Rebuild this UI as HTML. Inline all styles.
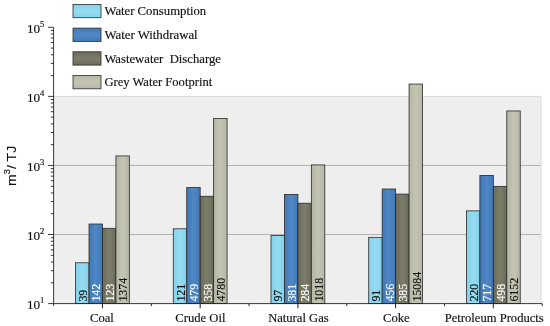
<!DOCTYPE html><html><head><meta charset="utf-8"><style>html,body{margin:0;padding:0;background:#fff}svg{display:block;font-family:"Liberation Serif",serif}text{stroke-width:.15px}</style></head><body><svg width="550" height="326" viewBox="0 0 550 326">
<defs>
<linearGradient id="c1" x1="0" x2="1" y1="0" y2="0"><stop offset="0" stop-color="#84d2eb"/><stop offset="0.5" stop-color="#95dbf0"/><stop offset="1" stop-color="#84d2eb"/></linearGradient>
<linearGradient id="c2" x1="0" x2="1" y1="0" y2="0"><stop offset="0" stop-color="#4179b6"/><stop offset="0.5" stop-color="#4f88c5"/><stop offset="1" stop-color="#4179b6"/></linearGradient>
<linearGradient id="c3" x1="0" x2="1" y1="0" y2="0"><stop offset="0" stop-color="#6b6b5b"/><stop offset="0.5" stop-color="#7d7d69"/><stop offset="1" stop-color="#6b6b5b"/></linearGradient>
<linearGradient id="c4" x1="0" x2="1" y1="0" y2="0"><stop offset="0" stop-color="#b5b6a4"/><stop offset="0.5" stop-color="#c3c4b2"/><stop offset="1" stop-color="#b5b6a4"/></linearGradient>
<linearGradient id="l1" x1="0" x2="0" y1="0" y2="1"><stop offset="0" stop-color="#86d3ec"/><stop offset="0.5" stop-color="#97dcf1"/><stop offset="1" stop-color="#86d3ec"/></linearGradient>
<linearGradient id="l2" x1="0" x2="0" y1="0" y2="1"><stop offset="0" stop-color="#4179b6"/><stop offset="0.5" stop-color="#4f88c5"/><stop offset="1" stop-color="#4179b6"/></linearGradient>
<linearGradient id="l3" x1="0" x2="0" y1="0" y2="1"><stop offset="0" stop-color="#6b6b5b"/><stop offset="0.5" stop-color="#7d7d69"/><stop offset="1" stop-color="#6b6b5b"/></linearGradient>
<linearGradient id="l4" x1="0" x2="0" y1="0" y2="1"><stop offset="0" stop-color="#b5b6a4"/><stop offset="0.5" stop-color="#c3c4b2"/><stop offset="1" stop-color="#b5b6a4"/></linearGradient>
</defs>
<rect width="550" height="326" fill="#fff"/>
<rect x="53.6" y="96.38" width="487.4" height="207.23" fill="#eeeeee"/>
<line x1="53.6" x2="541.0" y1="234.53" y2="234.53" stroke="#b2b2b2" stroke-width="1"/>
<line x1="53.6" x2="541.0" y1="165.45" y2="165.45" stroke="#b2b2b2" stroke-width="1"/>
<line x1="53.6" x2="541.0" y1="96.38" y2="96.38" stroke="#dadada" stroke-width="1"/>
<line x1="541.0" x2="541.0" y1="96.38" y2="303.6" stroke="#dcdcdc" stroke-width="1"/>
<rect x="75.56" y="262.77" width="13.45" height="40.83" fill="url(#c1)" stroke="#2a2a2a" stroke-width="0.8"/>
<text transform="translate(86.98,301.60) rotate(-90) scale(0.95,1)" font-size="12.6" fill="#111" stroke="#111">39</text>
<rect x="89.01" y="224.01" width="13.45" height="79.59" fill="url(#c2)" stroke="#2a2a2a" stroke-width="0.8"/>
<text transform="translate(100.44,301.60) rotate(-90) scale(0.95,1)" font-size="12.6" fill="#fff" stroke="#fff">142</text>
<rect x="102.46" y="228.31" width="13.45" height="75.29" fill="url(#c3)" stroke="#2a2a2a" stroke-width="0.8"/>
<text transform="translate(113.89,301.60) rotate(-90) scale(0.95,1)" font-size="12.6" fill="#fff" stroke="#fff">123</text>
<rect x="115.91" y="155.92" width="13.45" height="147.68" fill="url(#c4)" stroke="#2a2a2a" stroke-width="0.8"/>
<text transform="translate(127.34,301.60) rotate(-90) scale(0.95,1)" font-size="12.6" fill="#111" stroke="#111">1374</text>
<text x="101.96" y="322" text-anchor="middle" font-size="12.6" fill="#111" stroke="#111">Coal</text>
<line x1="102.46" x2="102.46" y1="303.6" y2="308.3" stroke="#222" stroke-width="1"/>
<line x1="151.32" x2="151.32" y1="303.6" y2="306.1" stroke="#222" stroke-width="1"/>
<rect x="173.28" y="228.81" width="13.45" height="74.79" fill="url(#c1)" stroke="#2a2a2a" stroke-width="0.8"/>
<text transform="translate(184.70,301.60) rotate(-90) scale(0.95,1)" font-size="12.6" fill="#111" stroke="#111">121</text>
<rect x="186.73" y="187.53" width="13.45" height="116.07" fill="url(#c2)" stroke="#2a2a2a" stroke-width="0.8"/>
<text transform="translate(198.15,301.60) rotate(-90) scale(0.95,1)" font-size="12.6" fill="#fff" stroke="#fff">479</text>
<rect x="200.18" y="196.27" width="13.45" height="107.33" fill="url(#c3)" stroke="#2a2a2a" stroke-width="0.8"/>
<text transform="translate(211.60,301.60) rotate(-90) scale(0.95,1)" font-size="12.6" fill="#fff" stroke="#fff">358</text>
<rect x="213.63" y="118.52" width="13.45" height="185.08" fill="url(#c4)" stroke="#2a2a2a" stroke-width="0.8"/>
<text transform="translate(225.05,301.60) rotate(-90) scale(0.95,1)" font-size="12.6" fill="#111" stroke="#111">4780</text>
<text x="200.38" y="322" text-anchor="middle" font-size="12.6" fill="#111" stroke="#111">Crude Oil</text>
<line x1="200.18" x2="200.18" y1="303.6" y2="308.3" stroke="#222" stroke-width="1"/>
<line x1="249.04" x2="249.04" y1="303.6" y2="306.1" stroke="#222" stroke-width="1"/>
<rect x="271.00" y="235.44" width="13.45" height="68.16" fill="url(#c1)" stroke="#2a2a2a" stroke-width="0.8"/>
<text transform="translate(282.43,301.60) rotate(-90) scale(0.95,1)" font-size="12.6" fill="#111" stroke="#111">97</text>
<rect x="284.45" y="194.40" width="13.45" height="109.20" fill="url(#c2)" stroke="#2a2a2a" stroke-width="0.8"/>
<text transform="translate(295.88,301.60) rotate(-90) scale(0.95,1)" font-size="12.6" fill="#fff" stroke="#fff">381</text>
<rect x="297.90" y="203.21" width="13.45" height="100.39" fill="url(#c3)" stroke="#2a2a2a" stroke-width="0.8"/>
<text transform="translate(309.33,301.60) rotate(-90) scale(0.95,1)" font-size="12.6" fill="#fff" stroke="#fff">284</text>
<rect x="311.35" y="164.91" width="13.45" height="138.69" fill="url(#c4)" stroke="#2a2a2a" stroke-width="0.8"/>
<text transform="translate(322.78,301.60) rotate(-90) scale(0.95,1)" font-size="12.6" fill="#111" stroke="#111">1018</text>
<text x="298.40" y="322" text-anchor="middle" font-size="12.6" fill="#111" stroke="#111">Natural Gas</text>
<line x1="297.90" x2="297.90" y1="303.6" y2="308.3" stroke="#222" stroke-width="1"/>
<line x1="346.76" x2="346.76" y1="303.6" y2="306.1" stroke="#222" stroke-width="1"/>
<rect x="368.72" y="237.35" width="13.45" height="66.25" fill="url(#c1)" stroke="#2a2a2a" stroke-width="0.8"/>
<text transform="translate(380.15,301.60) rotate(-90) scale(0.95,1)" font-size="12.6" fill="#111" stroke="#111">91</text>
<rect x="382.17" y="189.01" width="13.45" height="114.59" fill="url(#c2)" stroke="#2a2a2a" stroke-width="0.8"/>
<text transform="translate(393.60,301.60) rotate(-90) scale(0.95,1)" font-size="12.6" fill="#fff" stroke="#fff">456</text>
<rect x="395.62" y="194.08" width="13.45" height="109.52" fill="url(#c3)" stroke="#2a2a2a" stroke-width="0.8"/>
<text transform="translate(407.05,301.60) rotate(-90) scale(0.95,1)" font-size="12.6" fill="#fff" stroke="#fff">385</text>
<rect x="409.07" y="84.04" width="13.45" height="219.56" fill="url(#c4)" stroke="#2a2a2a" stroke-width="0.8"/>
<text transform="translate(420.50,301.60) rotate(-90) scale(0.95,1)" font-size="12.6" fill="#111" stroke="#111">15084</text>
<text x="396.32" y="322" text-anchor="middle" font-size="12.6" fill="#111" stroke="#111">Coke</text>
<line x1="395.62" x2="395.62" y1="303.6" y2="308.3" stroke="#222" stroke-width="1"/>
<line x1="444.48" x2="444.48" y1="303.6" y2="306.1" stroke="#222" stroke-width="1"/>
<rect x="466.44" y="210.87" width="13.45" height="92.73" fill="url(#c1)" stroke="#2a2a2a" stroke-width="0.8"/>
<text transform="translate(477.87,301.60) rotate(-90) scale(0.95,1)" font-size="12.6" fill="#111" stroke="#111">220</text>
<rect x="479.89" y="175.43" width="13.45" height="128.17" fill="url(#c2)" stroke="#2a2a2a" stroke-width="0.8"/>
<text transform="translate(491.32,301.60) rotate(-90) scale(0.95,1)" font-size="12.6" fill="#fff" stroke="#fff">717</text>
<rect x="493.34" y="186.36" width="13.45" height="117.24" fill="url(#c3)" stroke="#2a2a2a" stroke-width="0.8"/>
<text transform="translate(504.77,301.60) rotate(-90) scale(0.95,1)" font-size="12.6" fill="#fff" stroke="#fff">498</text>
<rect x="506.79" y="110.95" width="13.45" height="192.65" fill="url(#c4)" stroke="#2a2a2a" stroke-width="0.8"/>
<text transform="translate(518.22,301.60) rotate(-90) scale(0.95,1)" font-size="12.6" fill="#111" stroke="#111">6152</text>
<text x="494.24" y="322" text-anchor="middle" font-size="12.6" fill="#111" stroke="#111">Petroleum Products</text>
<line x1="493.34" x2="493.34" y1="303.6" y2="308.3" stroke="#222" stroke-width="1"/>
<line x1="542.20" x2="542.20" y1="303.6" y2="306.1" stroke="#222" stroke-width="1"/>
<line x1="53.6" x2="53.6" y1="27.3" y2="306.0" stroke="#222" stroke-width="0.9"/>
<line x1="53.6" x2="542.2" y1="303.6" y2="303.6" stroke="#222" stroke-width="0.9"/>
<line x1="48.1" x2="53.6" y1="303.60" y2="303.60" stroke="#222" stroke-width="0.9"/>
<text x="44.400000000000006" y="309.20" text-anchor="end" font-size="13.2" fill="#111" stroke="#111">10<tspan dy="-6.4" font-size="8.6">1</tspan></text>
<line x1="50.800000000000004" x2="53.6" y1="282.81" y2="282.81" stroke="#222" stroke-width="0.9"/>
<line x1="50.800000000000004" x2="53.6" y1="270.64" y2="270.64" stroke="#222" stroke-width="0.9"/>
<line x1="50.800000000000004" x2="53.6" y1="262.01" y2="262.01" stroke="#222" stroke-width="0.9"/>
<line x1="50.800000000000004" x2="53.6" y1="255.32" y2="255.32" stroke="#222" stroke-width="0.9"/>
<line x1="50.800000000000004" x2="53.6" y1="249.85" y2="249.85" stroke="#222" stroke-width="0.9"/>
<line x1="50.800000000000004" x2="53.6" y1="245.22" y2="245.22" stroke="#222" stroke-width="0.9"/>
<line x1="50.800000000000004" x2="53.6" y1="241.22" y2="241.22" stroke="#222" stroke-width="0.9"/>
<line x1="50.800000000000004" x2="53.6" y1="237.69" y2="237.69" stroke="#222" stroke-width="0.9"/>
<line x1="48.1" x2="53.6" y1="234.53" y2="234.53" stroke="#222" stroke-width="0.9"/>
<text x="44.400000000000006" y="240.13" text-anchor="end" font-size="13.2" fill="#111" stroke="#111">10<tspan dy="-6.4" font-size="8.6">2</tspan></text>
<line x1="50.800000000000004" x2="53.6" y1="213.73" y2="213.73" stroke="#222" stroke-width="0.9"/>
<line x1="50.800000000000004" x2="53.6" y1="201.57" y2="201.57" stroke="#222" stroke-width="0.9"/>
<line x1="50.800000000000004" x2="53.6" y1="192.94" y2="192.94" stroke="#222" stroke-width="0.9"/>
<line x1="50.800000000000004" x2="53.6" y1="186.24" y2="186.24" stroke="#222" stroke-width="0.9"/>
<line x1="50.800000000000004" x2="53.6" y1="180.77" y2="180.77" stroke="#222" stroke-width="0.9"/>
<line x1="50.800000000000004" x2="53.6" y1="176.15" y2="176.15" stroke="#222" stroke-width="0.9"/>
<line x1="50.800000000000004" x2="53.6" y1="172.14" y2="172.14" stroke="#222" stroke-width="0.9"/>
<line x1="50.800000000000004" x2="53.6" y1="168.61" y2="168.61" stroke="#222" stroke-width="0.9"/>
<line x1="48.1" x2="53.6" y1="165.45" y2="165.45" stroke="#222" stroke-width="0.9"/>
<text x="44.400000000000006" y="171.05" text-anchor="end" font-size="13.2" fill="#111" stroke="#111">10<tspan dy="-6.4" font-size="8.6">3</tspan></text>
<line x1="50.800000000000004" x2="53.6" y1="144.66" y2="144.66" stroke="#222" stroke-width="0.9"/>
<line x1="50.800000000000004" x2="53.6" y1="132.49" y2="132.49" stroke="#222" stroke-width="0.9"/>
<line x1="50.800000000000004" x2="53.6" y1="123.86" y2="123.86" stroke="#222" stroke-width="0.9"/>
<line x1="50.800000000000004" x2="53.6" y1="117.17" y2="117.17" stroke="#222" stroke-width="0.9"/>
<line x1="50.800000000000004" x2="53.6" y1="111.70" y2="111.70" stroke="#222" stroke-width="0.9"/>
<line x1="50.800000000000004" x2="53.6" y1="107.07" y2="107.07" stroke="#222" stroke-width="0.9"/>
<line x1="50.800000000000004" x2="53.6" y1="103.07" y2="103.07" stroke="#222" stroke-width="0.9"/>
<line x1="50.800000000000004" x2="53.6" y1="99.54" y2="99.54" stroke="#222" stroke-width="0.9"/>
<line x1="48.1" x2="53.6" y1="96.38" y2="96.38" stroke="#222" stroke-width="0.9"/>
<text x="44.400000000000006" y="101.97" text-anchor="end" font-size="13.2" fill="#111" stroke="#111">10<tspan dy="-6.4" font-size="8.6">4</tspan></text>
<line x1="50.800000000000004" x2="53.6" y1="75.58" y2="75.58" stroke="#222" stroke-width="0.9"/>
<line x1="50.800000000000004" x2="53.6" y1="63.42" y2="63.42" stroke="#222" stroke-width="0.9"/>
<line x1="50.800000000000004" x2="53.6" y1="54.79" y2="54.79" stroke="#222" stroke-width="0.9"/>
<line x1="50.800000000000004" x2="53.6" y1="48.09" y2="48.09" stroke="#222" stroke-width="0.9"/>
<line x1="50.800000000000004" x2="53.6" y1="42.62" y2="42.62" stroke="#222" stroke-width="0.9"/>
<line x1="50.800000000000004" x2="53.6" y1="38.00" y2="38.00" stroke="#222" stroke-width="0.9"/>
<line x1="50.800000000000004" x2="53.6" y1="33.99" y2="33.99" stroke="#222" stroke-width="0.9"/>
<line x1="50.800000000000004" x2="53.6" y1="30.46" y2="30.46" stroke="#222" stroke-width="0.9"/>
<line x1="48.1" x2="53.6" y1="27.30" y2="27.30" stroke="#222" stroke-width="0.9"/>
<text x="44.400000000000006" y="32.90" text-anchor="end" font-size="13.2" fill="#111" stroke="#111">10<tspan dy="-6.4" font-size="8.6">5</tspan></text>
<text transform="translate(16.2,165.8) rotate(-90) scale(1.09,1)" text-anchor="middle" font-family="Liberation Sans, sans-serif" font-size="13" fill="#111" stroke="#111">m<tspan dy="-6" font-size="8.5">3</tspan><tspan dy="6" font-size="13">/ TJ</tspan></text>
<rect x="73.0" y="4.40" width="28.0" height="13.3" fill="url(#l1)" stroke="#2a2a2a" stroke-width="0.8"/>
<text x="104.4" y="15.30" font-size="12.6" textLength="101.8" lengthAdjust="spacingAndGlyphs" fill="#111" stroke="#111" style="white-space:pre">Water Consumption</text>
<rect x="73.0" y="28.10" width="28.0" height="13.3" fill="url(#l2)" stroke="#2a2a2a" stroke-width="0.8"/>
<text x="104.4" y="39.00" font-size="12.6" textLength="93.3" lengthAdjust="spacingAndGlyphs" fill="#111" stroke="#111" style="white-space:pre">Water Withdrawal</text>
<rect x="73.0" y="51.80" width="28.0" height="13.3" fill="url(#l3)" stroke="#2a2a2a" stroke-width="0.8"/>
<text x="104.4" y="62.70" font-size="12.6" textLength="116.5" lengthAdjust="spacingAndGlyphs" fill="#111" stroke="#111" style="white-space:pre">Wastewater  Discharge</text>
<rect x="73.0" y="75.50" width="28.0" height="13.3" fill="url(#l4)" stroke="#2a2a2a" stroke-width="0.8"/>
<text x="104.4" y="86.40" font-size="12.6" textLength="107.8" lengthAdjust="spacingAndGlyphs" fill="#111" stroke="#111" style="white-space:pre">Grey Water Footprint</text>
</svg></body></html>
